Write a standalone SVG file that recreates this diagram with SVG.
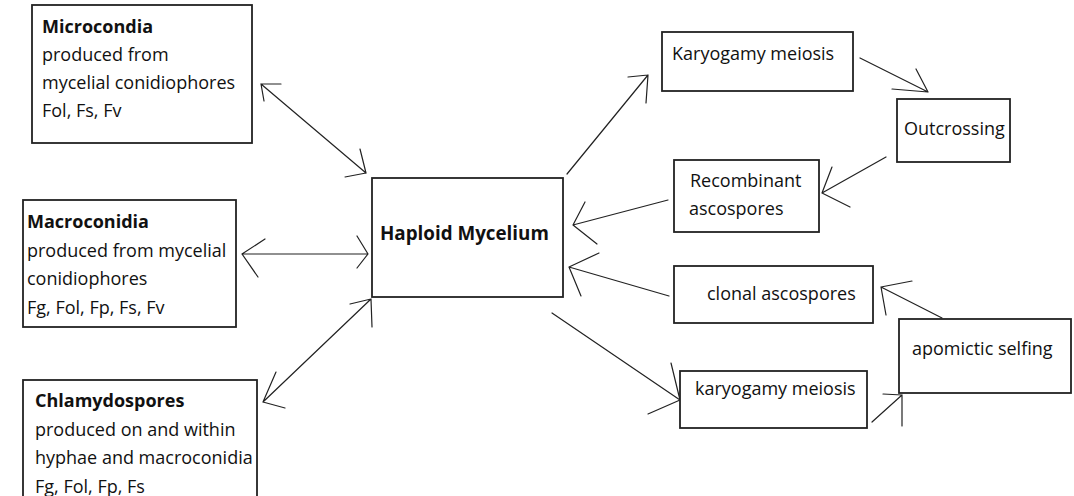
<svg xmlns="http://www.w3.org/2000/svg" width="1074" height="496" viewBox="0 0 1074 496">
<style>
.box{fill:#fff;stroke:#222;stroke-width:1.8}
.t{font-family:"Open Sans","Liberation Sans",sans-serif;font-size:18px;fill:#111}
.b{font-weight:bold}
.hm{font-size:18.8px}
.c{fill:none;stroke:#222;stroke-width:1.2;stroke-linecap:round}
</style>
<rect width="1074" height="496" fill="#fff"/>
<g id="connectors">
<path class="c" d="M261,84 L366,173 M261,84 L281,84 M261,84 L264,101 M366,173 L360,149 M366,173 L345,177"/>
<path class="c" d="M242,254 L368,254 M242,254 L265,239 M242,254 L258,277 M368,254 L357,236 M368,254 L357,268"/>
<path class="c" d="M263,402 L371,299 M371,299 L350,304 M371,299 L372,327 M263,402 L276,372 M263,402 L285,408"/>
<path class="c" d="M567,174 L648,75 M648,75 L628,77 M648,75 L646,103"/>
<path class="c" d="M860,58 L928,92 M928,92 L916,69 M928,92 L892,89"/>
<path class="c" d="M886,157 L822,193 M822,193 L832,167 M822,193 L850,207"/>
<path class="c" d="M668,200 L573,225 M573,225 L585,202 M573,225 L597,244"/>
<path class="c" d="M669,296 L569,267 M569,267 L599,253 M569,267 L581,296"/>
<path class="c" d="M552,313 L680,400 M680,400 L671,363 M680,400 L648,414"/>
<path class="c" d="M872,422 L902,395 M902,395 L883,394 M902,395 L902,426"/>
<path class="c" d="M942,318 L881,287 M881,287 L912,281 M881,287 L886,315"/>
</g>
<g id="microcondia">
<rect class="box" x="32" y="5" width="220" height="138"/>
<text class="t" x="42" y="33"><tspan class="b">Microcondia</tspan><tspan x="42" dy="28">produced from</tspan><tspan x="42" dy="28">mycelial conidiophores</tspan><tspan x="42" dy="28">Fol, Fs, Fv</tspan></text>
</g>
<g id="macroconidia">
<rect class="box" x="23" y="200" width="213" height="127"/>
<text class="t" x="27" y="228"><tspan class="b">Macroconidia</tspan><tspan x="27" dy="28.5">produced from mycelial</tspan><tspan x="27" dy="28.5">conidiophores</tspan><tspan x="27" dy="28.5">Fg, Fol, Fp, Fs, Fv</tspan></text>
</g>
<g id="chlamydospores">
<rect class="box" x="23" y="380" width="234" height="140"/>
<text class="t" x="35" y="407"><tspan class="b">Chlamydospores</tspan><tspan x="35" dy="28.5">produced on and within</tspan><tspan x="35" dy="28.5">hyphae and macroconidia</tspan><tspan x="35" dy="28.5">Fg, Fol, Fp, Fs</tspan></text>
</g>
<g id="haploid">
<rect class="box" x="372" y="178" width="191" height="119"/>
<text class="t b hm" x="380" y="240">Haploid Mycelium</text>
</g>
<g id="karyogamy-top">
<rect class="box" x="662" y="32" width="191" height="59"/>
<text class="t" x="672" y="60">Karyogamy meiosis</text>
</g>
<g id="outcrossing">
<rect class="box" x="897" y="99" width="113" height="63"/>
<text class="t" x="904" y="135">Outcrossing</text>
</g>
<g id="recombinant">
<rect class="box" x="674" y="160" width="145" height="72"/>
<text class="t" x="690" y="187">Recombinant</text>
<text class="t" x="689" y="215">ascospores</text>
</g>
<g id="clonal">
<rect class="box" x="674" y="266" width="199" height="57"/>
<text class="t" x="707" y="300">clonal ascospores</text>
</g>
<g id="apomictic">
<rect class="box" x="899" y="319" width="172" height="74"/>
<text class="t" x="912" y="355">apomictic selfing</text>
</g>
<g id="karyogamy-bottom">
<rect class="box" x="680" y="371" width="187" height="57"/>
<text class="t" x="695" y="395">karyogamy meiosis</text>
</g>
</svg>
